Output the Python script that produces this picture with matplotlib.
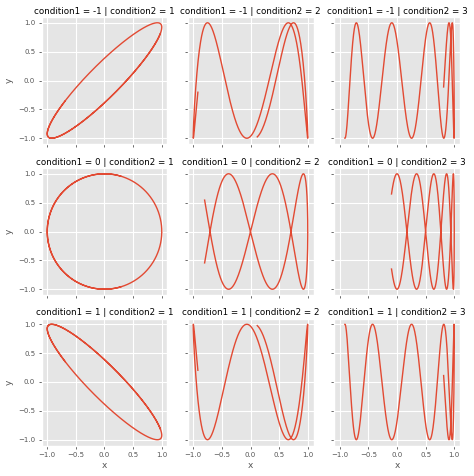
import numpy as np
import matplotlib
matplotlib.use("Agg")
import matplotlib.pyplot as plt

# facet levels
condition1 = [-1, 0, 1]
condition2 = [1, 2, 3]

# phase offsets (per unit of condition1)
phase_x = np.pi / 3
phase_y = [-0.92, -0.78, -0.82]   # one per condition2 level

t = np.linspace(-5, 5, 1500)

plt.style.use("ggplot")
fig = plt.figure(figsize=(4.74, 4.76), dpi=100)
W, H = 474.0, 476.0

lefts = [41.5, 187.5, 334.0]
tops = [17.0, 168.0, 318.5]
aw, ah = 126.0, 127.0

ticks = [-1.0, -0.5, 0.0, 0.5, 1.0]
tick_labels = ["\u22121.0", "\u22120.5", "0.0", "0.5", "1.0"]

for i, c1 in enumerate(condition1):
    for j, c2 in enumerate(condition2):
        ax = fig.add_axes([lefts[j] / W, 1 - (tops[i] + ah) / H, aw / W, ah / H])
        x = np.cos(t / c2 + c1 * phase_x)
        y = np.sin(c2 * t + c1 * phase_y[j])
        ax.plot(x, y, color="#E24A33", lw=1.0)
        ax.set_xlim(-1.1, 1.1)
        ax.set_ylim(-1.1, 1.1)
        ax.set_xticks(ticks)
        ax.set_yticks(ticks)
        ax.tick_params(labelsize=5, length=2.5, width=0.6, pad=2, colors="#555555")
        ax.set_title(f"condition1 = {c1} | condition2 = {c2}", fontsize=6.3, pad=2.5)
        if j == 0:
            ax.set_yticklabels(tick_labels)
            ax.set_ylabel("y", fontsize=6.5, color="#555555", labelpad=3)
        else:
            ax.set_yticklabels([])
        if i == 2:
            ax.set_xticklabels(tick_labels)
            ax.set_xlabel("x", fontsize=6.5, color="#555555", labelpad=2)
        else:
            ax.set_xticklabels([])

fig.savefig("out.png", dpi=100)
